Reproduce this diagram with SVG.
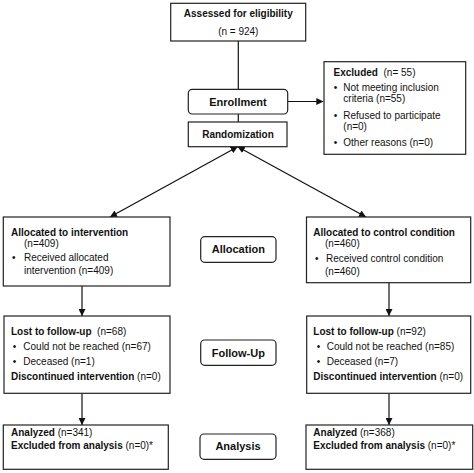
<svg xmlns="http://www.w3.org/2000/svg" width="474" height="473" viewBox="0 0 474 473">
<defs>
<marker id="ah" viewBox="0 0 10 10" refX="10" refY="5" markerWidth="7" markerHeight="7" orient="auto-start-reverse" markerUnits="userSpaceOnUse">
<path d="M0,0 L10,5 L0,10 z" fill="#111"/>
</marker>
<style>
.box{fill:#fff;stroke:#222;stroke-width:1.2}
.stage{fill:#fff;stroke:#222;stroke-width:1.2}
text{font-family:"Liberation Sans",Arial,sans-serif;font-size:10px;fill:#111}
.b{font-weight:bold}
.st{font-weight:bold;font-size:11px}
.c{text-anchor:middle}
.ln{stroke:#111;stroke-width:1.2;fill:none}
</style>
</defs>
<rect width="474" height="473" fill="#fff"/>
<g id="connectors">
<line class="ln" x1="238.3" y1="41" x2="238.3" y2="89.3"/>
<line class="ln" x1="238.3" y1="114" x2="238.3" y2="122"/>
<line class="ln" x1="287.7" y1="101.5" x2="323.3" y2="101.5" marker-end="url(#ah)"/>
<line class="ln" x1="237.7" y1="146.7" x2="110" y2="217" marker-start="url(#ah)" marker-end="url(#ah)"/>
<line class="ln" x1="237.7" y1="146.7" x2="366" y2="217" marker-start="url(#ah)" marker-end="url(#ah)"/>
<line class="ln" x1="82" y1="286" x2="82" y2="316" marker-end="url(#ah)"/>
<line class="ln" x1="389" y1="282.7" x2="389" y2="316" marker-end="url(#ah)"/>
<line class="ln" x1="82" y1="393.3" x2="82" y2="425" marker-end="url(#ah)"/>
<line class="ln" x1="389" y1="393.3" x2="389" y2="425" marker-end="url(#ah)"/>
</g>
<g id="assessed">
<rect class="box" x="170.7" y="3.3" width="135" height="37.7"/>
<text class="b c" x="238.3" y="17">Assessed for eligibility</text>
<text class="c" x="238.3" y="34.5">(n = 924)</text>
</g>
<g id="enrollment">
<rect class="stage" x="188.3" y="89.3" width="99.4" height="24.7" rx="4"/>
<text class="st c" x="238" y="105.5">Enrollment</text>
</g>
<g id="randomization">
<rect class="box" x="188.3" y="122" width="98.7" height="24.7"/>
<text class="b c" x="238" y="137.7">Randomization</text>
</g>
<g id="excluded">
<rect class="box" x="324" y="61.7" width="141.7" height="92.6"/>
<text x="333.5" y="76"><tspan class="b">Excluded</tspan>&#160; (n= 55)</text>
<text x="333.7" y="91">•</text><text x="343.3" y="91">Not meeting inclusion</text>
<text x="343.3" y="102">criteria (n=55)</text>
<text x="333.7" y="118.7">•</text><text x="343.3" y="118.7">Refused to participate</text>
<text x="343.3" y="129.7">(n=0)</text>
<text x="333.7" y="146">•</text><text x="343.3" y="146">Other reasons (n=0)</text>
</g>
<g id="alloc-int">
<rect class="box" x="3.3" y="217" width="166.7" height="69"/>
<text class="b" x="11" y="236">Allocated to intervention</text>
<text x="24" y="247">(n=409)</text>
<text x="12" y="261.4">•</text><text x="24" y="261.4">Received allocated</text>
<text x="24" y="273.7">intervention (n=409)</text>
</g>
<g id="allocation">
<rect class="stage" x="200.7" y="236.7" width="75.3" height="25.6" rx="4"/>
<text class="st c" x="238.3" y="253.3">Allocation</text>
</g>
<g id="alloc-ctrl">
<rect class="box" x="306.5" y="217" width="164.2" height="65.7"/>
<text class="b" x="313.3" y="236">Allocated to control condition</text>
<text x="325" y="247">(n=460)</text>
<text x="315" y="262">•</text><text x="326" y="262">Received control condition</text>
<text x="325" y="274.7">(n=460)</text>
</g>
<g id="lost-int">
<rect class="box" x="4" y="316" width="166" height="77.3"/>
<text x="11" y="335.4"><tspan class="b">Lost to follow-up</tspan>&#160; (n=68)</text>
<text x="12.7" y="350.4">•</text><text x="23.3" y="350.4">Could not be reached (n=67)</text>
<text x="12.7" y="365.4">•</text><text x="23.3" y="365.4">Deceased (n=1)</text>
<text x="11" y="380.4"><tspan class="b">Discontinued intervention</tspan> (n=0)</text>
</g>
<g id="followup">
<rect class="stage" x="200.7" y="340" width="75.3" height="25.3" rx="4"/>
<text class="st c" x="238.3" y="356.5">Follow-Up</text>
</g>
<g id="lost-ctrl">
<rect class="box" x="306.7" y="316" width="164" height="77.3"/>
<text x="313.3" y="335.4"><tspan class="b">Lost to follow-up</tspan> (n=92)</text>
<text x="316.7" y="350.4">•</text><text x="326.7" y="350.4">Could not be reached (n=85)</text>
<text x="316.7" y="365.4">•</text><text x="326.7" y="365.4">Deceased (n=7)</text>
<text x="313.3" y="380.4"><tspan class="b">Discontinued intervention</tspan> (n=0)</text>
</g>
<g id="analyzed-int">
<rect class="box" x="3.3" y="425" width="165" height="44.3"/>
<text x="11" y="436"><tspan class="b">Analyzed</tspan> (n=341)</text>
<text x="11" y="449.4"><tspan class="b">Excluded from analysis</tspan> (n=0)*</text>
</g>
<g id="analysis">
<rect class="stage" x="200" y="434" width="76" height="25.3" rx="4"/>
<text class="st c" x="238" y="450.4">Analysis</text>
</g>
<g id="analyzed-ctrl">
<rect class="box" x="306" y="425" width="166.7" height="44.3"/>
<text x="313.3" y="436"><tspan class="b">Analyzed</tspan> (n=368)</text>
<text x="313.3" y="449.4"><tspan class="b">Excluded from analysis</tspan> (n=0)*</text>
</g>
</svg>
